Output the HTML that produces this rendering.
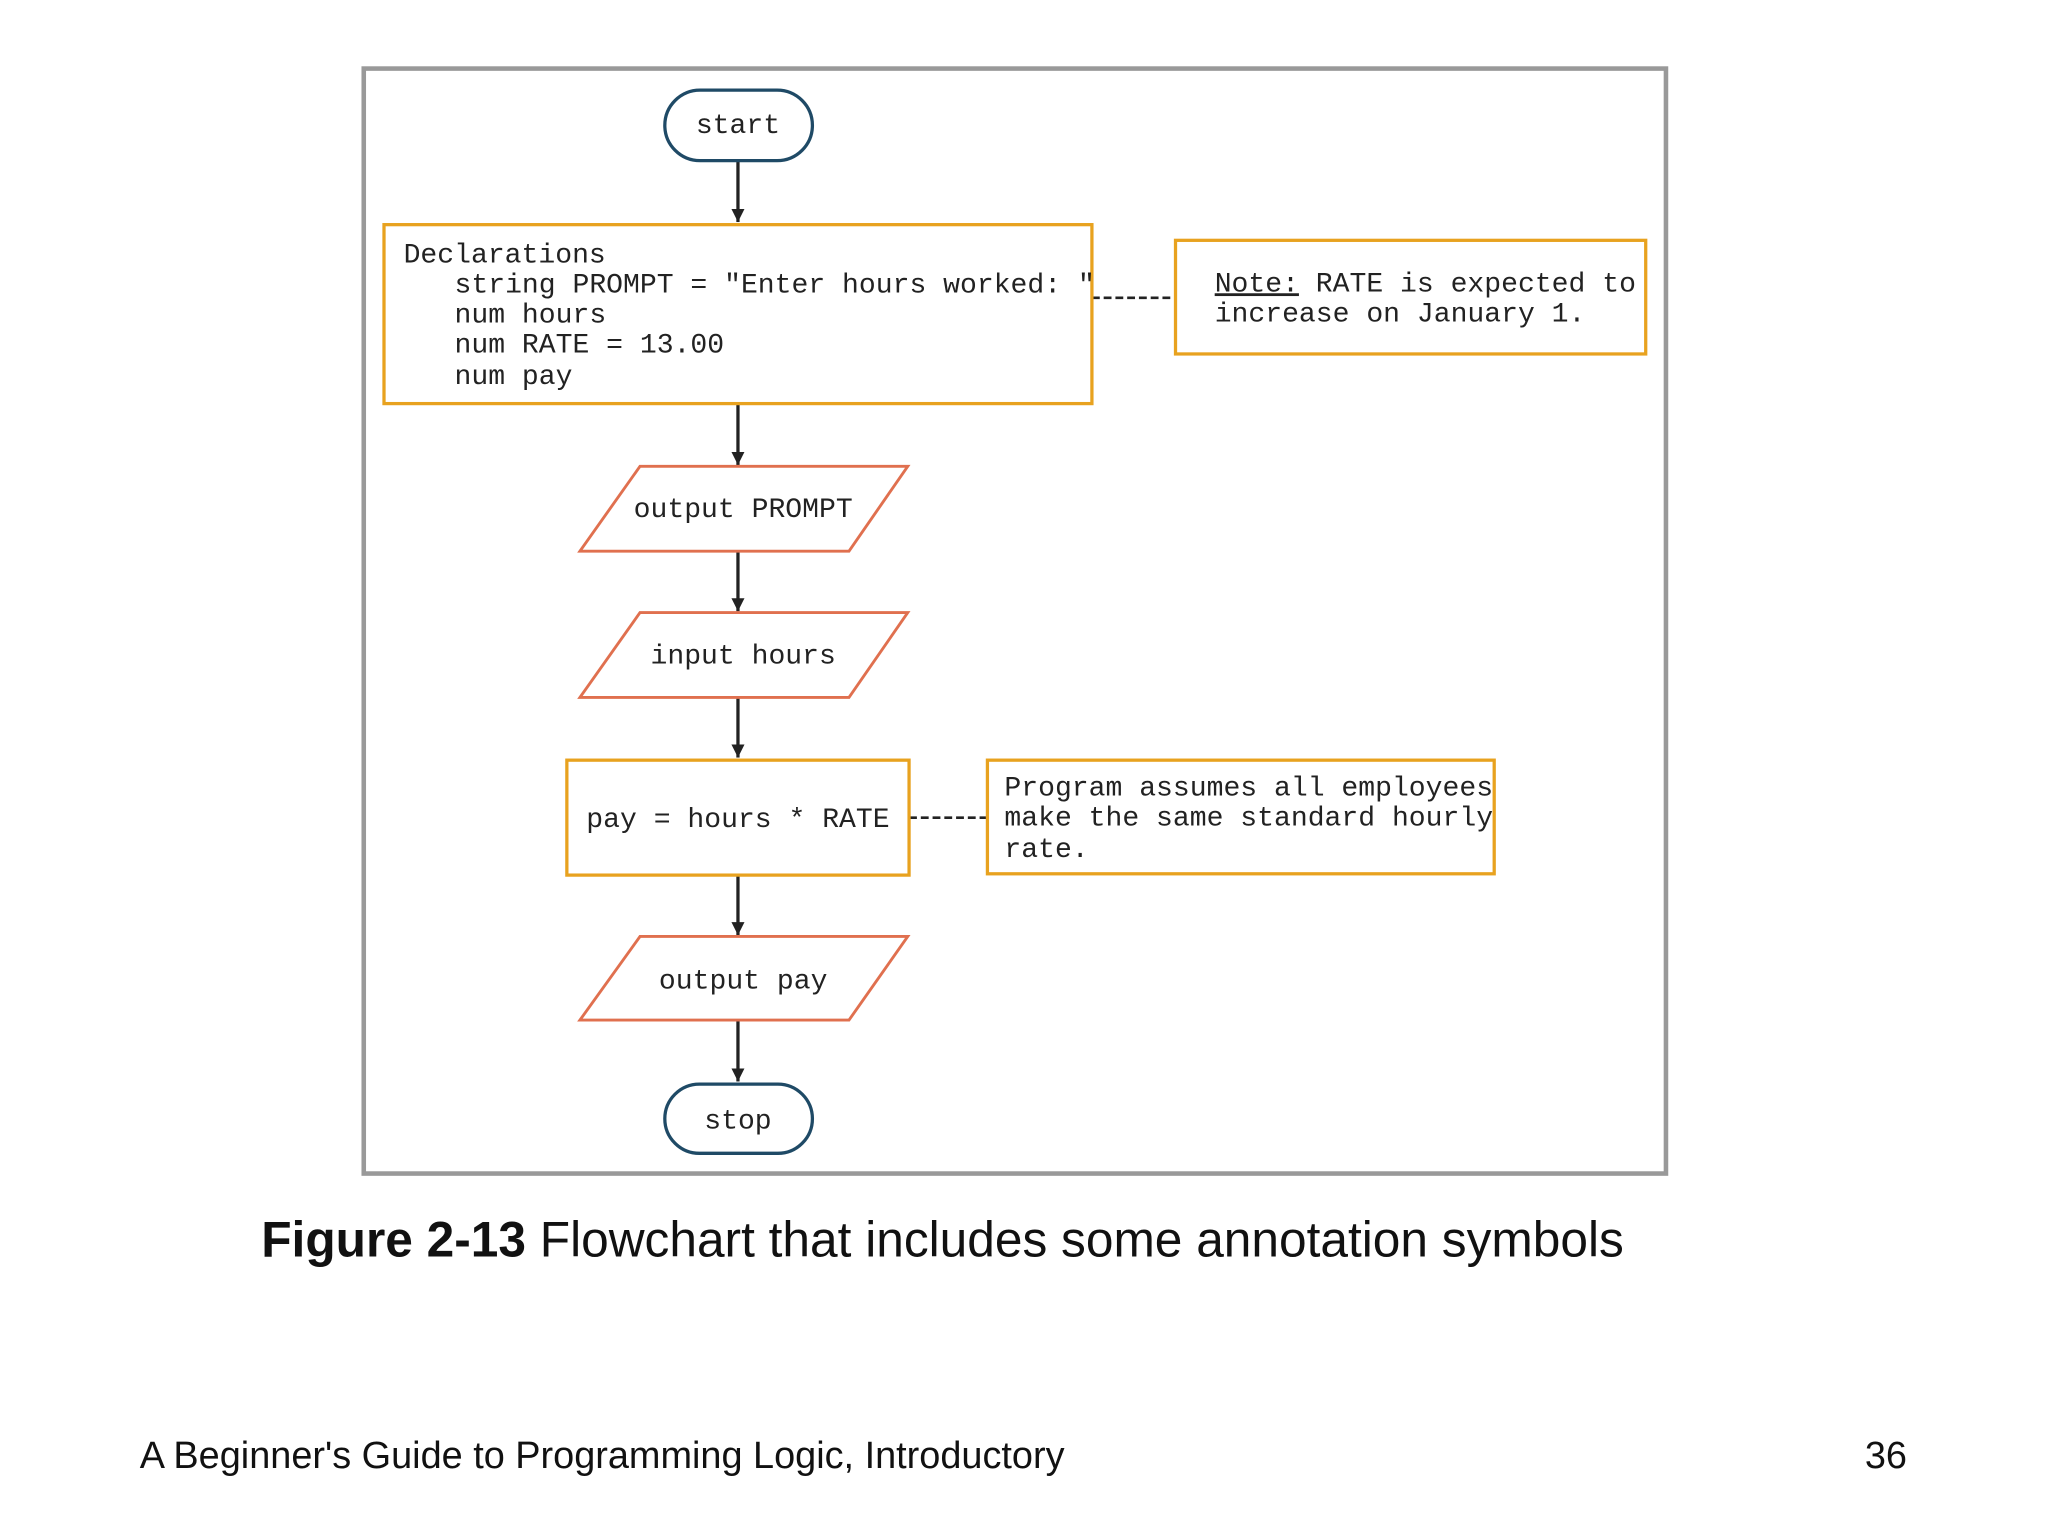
<!DOCTYPE html>
<html><head><meta charset="utf-8"><style>
html,body{margin:0;padding:0;background:#fff;}
svg{display:block;}
.m{font-family:"Liberation Mono","DejaVu Sans Mono",monospace;font-size:21.5px;fill:#222;}
</style></head><body>
<svg width="2048" height="1536" viewBox="0 0 1568 1176" xmlns="http://www.w3.org/2000/svg">
<defs><marker id="a" markerWidth="10" markerHeight="14" refX="5" refY="13" orient="auto" markerUnits="userSpaceOnUse"><path d="M0,0 L10,0 L5,14 z" fill="#222" transform="rotate(-90 5 7)"/></marker>
<marker id="h" viewBox="0 0 10 14" markerWidth="10" markerHeight="14" refX="10" refY="7" orient="auto" markerUnits="userSpaceOnUse"><path d="M0,2 L10,7 L0,12 z" fill="#222"/></marker></defs>
<rect x="278.5" y="52.5" width="997" height="846" fill="#fff" stroke="#999" stroke-width="3.5"/>
<g stroke="#222" stroke-width="2.5" fill="none" marker-end="url(#h)">
<line x1="565" y1="123" x2="565" y2="170"/>
<line x1="565" y1="309" x2="565" y2="356"/>
<line x1="565" y1="422" x2="565" y2="468"/>
<line x1="565" y1="534" x2="565" y2="580"/>
<line x1="565" y1="670" x2="565" y2="716"/>
<line x1="565" y1="781" x2="565" y2="828"/>
</g>
<g stroke="#222" stroke-width="2" stroke-dasharray="6,3">
<line x1="836" y1="228" x2="899" y2="228"/>
<line x1="696" y1="626" x2="755" y2="626"/>
</g>
<rect x="509" y="69" width="113" height="54" rx="27" fill="#fff" stroke="#1f4a66" stroke-width="2.5"/>
<rect x="509" y="830" width="113" height="53" rx="26.5" fill="#fff" stroke="#1f4a66" stroke-width="2.5"/>
<g fill="#fff" stroke="#e8a21f" stroke-width="2.5">
<rect x="294" y="172" width="542" height="137"/>
<rect x="900" y="184" width="360" height="87"/>
<rect x="434" y="582" width="262" height="88"/>
<rect x="756" y="582" width="388" height="87"/>
</g>
<g fill="#fff" stroke="#e0704f" stroke-width="2.2">
<polygon points="490,357 695,357 650,422 444,422"/>
<polygon points="490,469 695,469 650,534 444,534"/>
<polygon points="490,717 695,717 650,781 444,781"/>
</g>
<text class="m" x="565" y="102" text-anchor="middle">start</text>
<text class="m" x="565" y="864" text-anchor="middle">stop</text>
<text class="m" x="309" y="201">Declarations</text>
<text class="m" x="348" y="224">string PROMPT = "Enter hours worked: "</text>
<text class="m" x="348" y="247">num hours</text>
<text class="m" x="348" y="270">num RATE = 13.00</text>
<text class="m" x="348" y="294">num pay</text>
<text class="m" x="930" y="223"><tspan text-decoration="underline">Note:</tspan> RATE is expected to</text>
<text class="m" x="930" y="246">increase on January 1.</text>
<text class="m" x="569" y="396" text-anchor="middle">output PROMPT</text>
<text class="m" x="569" y="508" text-anchor="middle">input hours</text>
<text class="m" x="565" y="633" text-anchor="middle">pay = hours * RATE</text>
<text class="m" x="769" y="609">Program assumes all employees</text>
<text class="m" x="769" y="632">make the same standard hourly</text>
<text class="m" x="769" y="656">rate.</text>
<text class="m" x="569" y="757" text-anchor="middle">output pay</text>
<text x="200" y="962" font-family="Liberation Sans, Arial, sans-serif" font-size="38" fill="#111"><tspan font-weight="bold">Figure 2-13</tspan> Flowchart that includes some annotation symbols</text>
<text x="107" y="1124" font-family="Liberation Sans, Arial, sans-serif" font-size="29" fill="#111">A Beginner's Guide to Programming Logic, Introductory</text>
<text x="1460" y="1124" text-anchor="end" font-family="Liberation Sans, Arial, sans-serif" font-size="29" fill="#111">36</text>
</svg>
</body></html>
